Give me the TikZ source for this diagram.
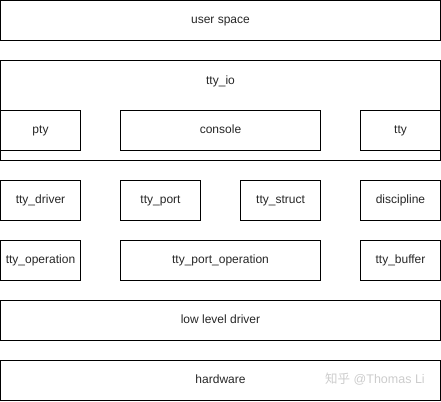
\documentclass[tikz,border=0pt]{standalone}
\usepackage{fontspec}
\setmainfont{Liberation Sans}
\newfontfamily\cjk{Noto Sans CJK SC}
\begin{document}
\begin{tikzpicture}[x=1pt,y=-1pt,
  box/.style={draw=black, line width=1pt, rectangle, inner sep=0pt, text height=6.4pt, text depth=0pt, font=\fontsize{12}{14}\selectfont, text=black!85},
  lbl/.style={inner sep=0pt, text height=6.4pt, text depth=0pt, font=\fontsize{12}{14}\selectfont, text=black!85},
  wm/.style={inner sep=0pt, text height=6.4pt, text depth=0pt, font=\fontsize{12.5}{14}\selectfont, text=black!20}]
\useasboundingbox (0,0) rectangle (441,401);
\node[box, minimum width=440, minimum height=40] (user) at (220.5,20.5) {user space};
\node[box, minimum width=440, minimum height=100] (ttyio) at (220.5,110.5) {};
\node[lbl] (ttyiolbl) at (220.5,81) {tty\_io};
\node[box, minimum width=80, minimum height=40] (pty) at (40.5,130.5) {pty};
\node[box, minimum width=200, minimum height=40] (console) at (220.5,130.5) {console};
\node[box, minimum width=80, minimum height=40] (tty) at (400.5,130.5) {tty};
\node[box, minimum width=80, minimum height=40] (driver) at (40.5,200.5) {tty\_driver};
\node[box, minimum width=80, minimum height=40] (port) at (160.5,200.5) {tty\_port};
\node[box, minimum width=80, minimum height=40] (struct) at (280.5,200.5) {tty\_struct};
\node[box, minimum width=80, minimum height=40] (disc) at (400.5,200.5) {discipline};
\node[box, minimum width=80, minimum height=40] (op) at (40.5,260.5) {tty\_operation};
\node[box, minimum width=200, minimum height=40] (portop) at (220.5,260.5) {tty\_port\_operation};
\node[box, minimum width=80, minimum height=40] (buf) at (400.5,260.5) {tty\_buffer};
\node[box, minimum width=440, minimum height=40] (low) at (220.5,320.5) {low level driver};
\node[box, minimum width=440, minimum height=40] (hw) at (220.5,380.5) {hardware};
\node[wm] (wmark) at (375,380.5) {{\cjk 知乎} @Thomas Li};
\end{tikzpicture}
\end{document}
